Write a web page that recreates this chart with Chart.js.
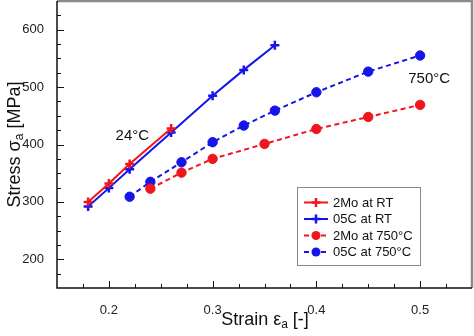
<!DOCTYPE html>
<html>
<head>
<meta charset="utf-8">
<script src="https://cdn.jsdelivr.net/npm/chart.js@4/dist/chart.umd.min.js"></script>
<style>
  html, body { margin: 0; padding: 0; background: #fff; }
  #wrap { width: 474px; height: 336px; }
</style>
</head>
<body>
<div id="wrap"><canvas id="chart" width="474" height="336"></canvas></div>
<script>
// Data
const strain2MoRT = [0.18, 0.20, 0.22, 0.26];
const stress2MoRT = [300, 332, 366, 428];
const strain05CRT = [0.18, 0.20, 0.22, 0.26, 0.30, 0.33, 0.36];
const stress05CRT = [292, 324, 357, 421, 485, 530, 573];
const strain2Mo750 = [0.24, 0.27, 0.30, 0.35, 0.40, 0.45, 0.50];
const stress2Mo750 = [323, 351, 375, 401, 427, 448, 469];
const strain05C750 = [0.22, 0.24, 0.27, 0.30, 0.33, 0.36, 0.40, 0.45, 0.50];
const stress05C750 = [309, 335, 369, 404, 433, 459, 491, 527, 555];

const seriesLabels = ["2Mo at RT", "05C at RT", "2Mo at 750°C", "05C at 750°C"];
const xTicks = [0.2, 0.3, 0.4, 0.5];
const yTicks = [200, 300, 400, 500, 600];
const tempLabels = ["24°C", "750°C"];
const tempStrain = [0.2226, 0.5087];
const tempStress = [415, 514];

const RED = "rgb(240, 22, 30)";
const BLUE = "rgb(20, 20, 235)";
const FONT = "Arial, 'Liberation Sans', sans-serif";
const DASH = [5, 3.5];

function pts(xs, ys) {
  return xs.map((v, i) => ({ x: v, y: ys[i] }));
}

function series(label, xs, ys, color, style, dashed) {
  return {
    label: label,
    data: pts(xs, ys),
    borderColor: color,
    backgroundColor: color,
    borderWidth: 2,
    borderDash: dashed ? DASH : [],
    pointStyle: style,
    pointRadius: style === "cross" ? 4.5 : 4.7,
    pointBorderWidth: style === "cross" ? 2.5 : 1,
    pointBorderColor: color,
    pointBackgroundColor: color,
    tension: 0
  };
}

// draw text with a subscript part, centred on (cx, cy)
function drawSubText(ctx, parts, cx, cy, size) {
  const subSize = Math.round(size * 0.68);
  let total = 0;
  parts.forEach(p => {
    ctx.font = (p.sub ? subSize : size) + "px " + FONT;
    p.w = ctx.measureText(p.t).width;
    total += p.w;
  });
  let x = cx - total / 2;
  ctx.textAlign = "left";
  ctx.textBaseline = "middle";
  parts.forEach(p => {
    ctx.font = (p.sub ? subSize : size) + "px " + FONT;
    ctx.fillText(p.t, x, p.sub ? cy + size * 0.28 : cy);
    x += p.w;
  });
}

function drawMarker(ctx, style, x, y, r) {
  ctx.beginPath();
  if (style === "cross") {
    ctx.lineWidth = 2.5;
    ctx.moveTo(x - r, y); ctx.lineTo(x + r, y);
    ctx.moveTo(x, y - r); ctx.lineTo(x, y + r);
    ctx.stroke();
  } else {
    ctx.arc(x, y, r, 0, Math.PI * 2);
    ctx.fill();
  }
}

const extras = {
  id: "extras",
  afterDatasetsDraw(chart) {
    const { ctx, chartArea: a, scales } = chart;
    const xs = scales.x, ys = scales.y;
    ctx.save();

    // frame: grey top/right, black left/bottom
    ctx.setLineDash([]);
    ctx.strokeStyle = "#8a8a8a";
    ctx.lineWidth = 2.5;
    ctx.beginPath();
    ctx.moveTo(a.left, a.top); ctx.lineTo(a.right, a.top); ctx.lineTo(a.right, a.bottom);
    ctx.stroke();
    ctx.strokeStyle = "#111";
    ctx.lineWidth = 1.5;
    ctx.beginPath();
    ctx.moveTo(a.left, a.top); ctx.lineTo(a.left, a.bottom); ctx.lineTo(a.right, a.bottom);
    ctx.stroke();

    // inward tick marks (major + minor)
    ctx.lineWidth = 1;
    ctx.strokeStyle = "#111";
    ctx.beginPath();
    for (let i = 1; i < 16; i++) {
      const v = 0.15 + i * 0.025;
      const px = Math.round(xs.getPixelForValue(v)) + 0.5;
      const major = xTicks.some(t => Math.abs(t - v) < 1e-6);
      ctx.moveTo(px, a.bottom);
      ctx.lineTo(px, a.bottom - (major ? 7 : 4));
    }
    for (let i = 1; i < 20; i++) {
      const v = 150 + i * 25;
      const py = Math.round(ys.getPixelForValue(v)) + 0.5;
      const major = yTicks.includes(v);
      ctx.moveTo(a.left, py);
      ctx.lineTo(a.left + (major ? 7 : 4), py);
    }
    ctx.stroke();

    // temperature annotations
    ctx.fillStyle = "#111";
    ctx.font = "15px " + FONT;
    ctx.textAlign = "center";
    ctx.textBaseline = "middle";
    tempLabels.forEach((t, i) => {
      ctx.fillText(t, xs.getPixelForValue(tempStrain[i]), ys.getPixelForValue(tempStress[i]));
    });

    // axis titles
    ctx.fillStyle = "#111";
    drawSubText(ctx, [{ t: "Strain ε" }, { t: "a", sub: true }, { t: " [-]" }], (a.left + a.right) / 2 + 0.5, 320, 18);
    ctx.save();
    ctx.translate(15, (a.top + a.bottom) / 2);
    ctx.rotate(-Math.PI / 2);
    drawSubText(ctx, [{ t: "Stress σ" }, { t: "a", sub: true }, { t: " [MPa]" }], 0, 0, 18);
    ctx.restore();

    // legend box
    const bx = 297, by = 187, bw = 123, bh = 78;
    ctx.fillStyle = "#fff";
    ctx.fillRect(bx, by, bw, bh);
    ctx.strokeStyle = "#888";
    ctx.lineWidth = 1;
    ctx.strokeRect(bx + 0.5, by + 0.5, bw, bh);
    chart.data.datasets.forEach((ds, i) => {
      const ry = by + 15.5 + i * 16.5;
      ctx.strokeStyle = ds.borderColor;
      ctx.fillStyle = ds.borderColor;
      ctx.lineWidth = 2;
      ctx.setLineDash(ds.borderDash);
      ctx.beginPath();
      ctx.moveTo(bx + 7, ry); ctx.lineTo(bx + 31, ry);
      ctx.stroke();
      ctx.setLineDash([]);
      drawMarker(ctx, ds.pointStyle, bx + 19, ry, 4.5);
      ctx.fillStyle = "#111";
      ctx.font = "13px " + FONT;
      ctx.textAlign = "left";
      ctx.textBaseline = "middle";
      ctx.fillText(ds.label, bx + 36, ry + 0.5);
    });

    ctx.restore();
  }
};

new Chart(document.getElementById("chart"), {
  type: "line",
  data: {
    datasets: [
      series(seriesLabels[0], strain2MoRT, stress2MoRT, RED, "cross", false),
      series(seriesLabels[1], strain05CRT, stress05CRT, BLUE, "cross", false),
      series(seriesLabels[2], strain2Mo750, stress2Mo750, RED, "circle", true),
      series(seriesLabels[3], strain05C750, stress05C750, BLUE, "circle", true)
    ]
  },
  options: {
    responsive: false,
    animation: false,
    devicePixelRatio: 1,
    layout: { autoPadding: false, padding: { top: 1, right: 2, left: 0, bottom: 0 } },
    plugins: {
      legend: { display: false },
      tooltip: { enabled: false }
    },
    scales: {
      x: {
        type: "linear",
        min: 0.15,
        max: 0.55,
        grid: { display: false },
        border: { display: false },
        afterBuildTicks: s => { s.ticks = xTicks.map(v => ({ value: v })); },
        afterFit: s => { s.height = 48; s.paddingLeft = 0; s.paddingRight = 0; },
        ticks: {
          padding: 7,
          color: "#222",
          font: { family: FONT, size: 13 },
          callback: v => v.toFixed(1)
        }
      },
      y: {
        type: "linear",
        min: 150,
        max: 650,
        grid: { display: false },
        border: { display: false },
        afterBuildTicks: s => { s.ticks = yTicks.map(v => ({ value: v })); },
        afterFit: s => { s.width = 57; s.paddingTop = 0; s.paddingBottom = 0; },
        ticks: {
          padding: 5,
          color: "#222",
          font: { family: FONT, size: 13 }
        }
      }
    }
  },
  plugins: [extras]
});
</script>
</body>
</html>
